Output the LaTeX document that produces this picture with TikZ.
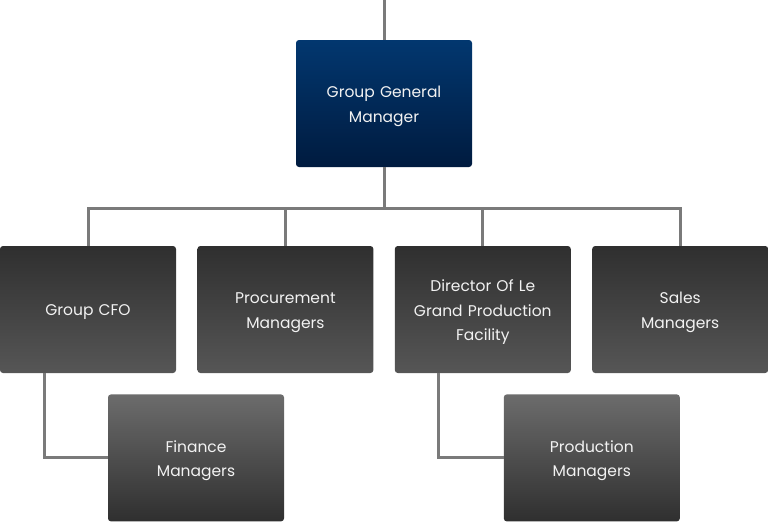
\documentclass[tikz,border=0pt]{standalone}
\usepackage{fontspec}
\setmainfont{Poppins}
\usepackage{tikz}
\usetikzlibrary{positioning,calc}
\definecolor{navytop}{HTML}{02376F}
\definecolor{navybot}{HTML}{001B3F}
\definecolor{darktop}{HTML}{2F2F2F}
\definecolor{darkbot}{HTML}{565656}
\definecolor{lighttop}{HTML}{6C6C6C}
\definecolor{lightbot}{HTML}{2F2F2F}
\definecolor{linkgray}{HTML}{7A7A7A}
\definecolor{paper}{HTML}{F2F2F2}
\tikzset{
    orgbox/.style={rounded corners=3pt,minimum width=176pt,minimum height=127pt,
      inner sep=4pt,text=paper,align=center,text width=160pt,
      font=\fontsize{15.5}{24.5}\selectfont,
      execute at begin node={\rule{0pt}{17pt}}},
    headbox/.style={orgbox,top color=navytop,bottom color=navybot},
    rolebox/.style={orgbox,top color=darktop,bottom color=darkbot},
    subbox/.style={orgbox,top color=lighttop,bottom color=lightbot},
    link/.style={draw=linkgray,line width=3pt}
}
\begin{document}
\begin{tikzpicture}[x=1pt,y=1pt]
  \useasboundingbox (0,0) rectangle (768,-523);
  \node[headbox] (ggm) at (384,-103.5) {Group General\\Manager};
  \node[rolebox] (cfo) at (88,-309.5) {Group CFO};
  \node[rolebox,right=21pt of cfo] (proc) {Procurement\\Managers};
  \node[rolebox,right=21pt of proc] (dir) {Director Of Le\\Grand Production\\Facility};
  \node[rolebox,right=21pt of dir] (sales) {Sales\\Managers};
  \node[subbox,anchor=north west] (fin) at ($(cfo.south west)+(108,-21)$) {Finance\\Managers};
  \node[subbox,anchor=north west] (prod) at ($(dir.south west)+(109,-21)$) {Production\\Managers};
  \coordinate (top) at (384,0);
  \coordinate (bus) at (384,-208);
  \draw[link] (top) -- (ggm.north);
  \draw[link] (ggm.south) -- (bus);
  \draw[link] (cfo.north) |- (sales.north |- bus) -- (sales.north);
  \foreach \n in {proc,dir}
    \draw[link] (\n.north) -- (\n.north |- bus);
  \draw[link] ([xshift=-44pt]cfo.south) |- (fin.west);
  \draw[link] ([xshift=-44pt]dir.south) |- (prod.west);
\end{tikzpicture}
\end{document}
